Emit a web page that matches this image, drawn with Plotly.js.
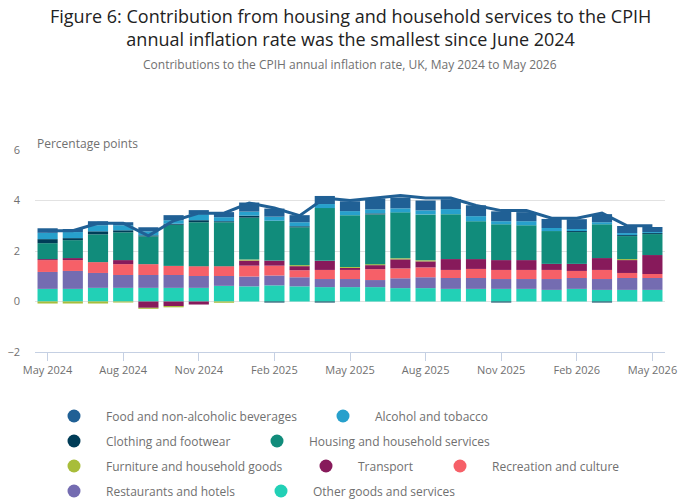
<!DOCTYPE html>
<html><head><meta charset="utf-8">
<script src="https://cdn.plot.ly/plotly-3.0.1.min.js"></script>
<style>html,body{margin:0;padding:0;background:#fff}#chart{width:700px;height:502px}</style>
</head><body><div id="chart"></div>
<script>
const months = ["May 2024","Jun 2024","Jul 2024","Aug 2024","Sep 2024","Oct 2024","Nov 2024","Dec 2024",
  "Jan 2025","Feb 2025","Mar 2025","Apr 2025","May 2025","Jun 2025","Jul 2025","Aug 2025","Sep 2025","Oct 2025","Nov 2025","Dec 2025",
  "Jan 2026","Feb 2026","Mar 2026","Apr 2026","May 2026"];
const tickLabels = ["May 2024","Aug 2024","Nov 2024","Feb 2025","May 2025","Aug 2025","Nov 2025","Feb 2026","May 2026"];

const otherGoods   = [0.50,0.50,0.54,0.54,0.54,0.54,0.54,0.62,0.60,0.64,0.60,0.57,0.57,0.57,0.53,0.53,0.50,0.50,0.50,0.50,0.46,0.50,0.46,0.46,0.46];
const restaurants  = [0.67,0.71,0.59,0.51,0.51,0.51,0.47,0.39,0.39,0.39,0.36,0.32,0.32,0.28,0.39,0.43,0.43,0.43,0.39,0.39,0.43,0.43,0.43,0.47,0.47];
const recreation   = [0.47,0.43,0.43,0.43,0.43,0.36,0.39,0.39,0.43,0.39,0.28,0.36,0.36,0.43,0.39,0.39,0.32,0.36,0.36,0.36,0.36,0.28,0.36,0.20,0.16];
const transport    = [0.04,0.08,0.00,0.16,-0.25,-0.18,-0.12,0.00,0.20,0.20,0.16,0.36,0.08,0.16,0.36,0.24,0.43,0.39,0.39,0.39,0.24,0.28,0.47,0.51,0.75];
const furniture    = [-0.08,-0.08,-0.08,-0.04,-0.04,-0.05,0.00,-0.05,0.04,0.00,0.04,0.00,0.04,0.04,0.04,0.04,0.00,0.00,0.00,0.00,0.00,0.00,0.00,0.04,0.00];
const housing      = [0.63,0.71,1.10,1.10,1.10,1.63,1.74,1.74,1.66,1.58,1.50,2.09,2.05,1.97,1.82,1.82,1.78,1.50,1.42,1.38,1.30,1.26,1.34,0.91,0.83];
const clothing     = [0.16,0.08,0.12,0.08,0.04,0.04,0.08,0.04,0.08,-0.04,0.04,-0.04,0.00,0.04,0.00,0.00,0.00,0.00,-0.04,0.00,0.00,0.04,-0.04,0.04,0.04];
const alcohol      = [0.25,0.24,0.24,0.20,0.16,0.14,0.24,0.16,0.16,0.16,0.16,0.16,0.16,0.16,0.16,0.16,0.20,0.20,0.12,0.16,0.12,0.08,0.08,0.08,0.04];
const food         = [0.18,0.12,0.16,0.12,0.16,0.20,0.16,0.20,0.36,0.32,0.28,0.32,0.39,0.43,0.43,0.39,0.39,0.43,0.39,0.36,0.36,0.39,0.32,0.28,0.20];
const cpih         = [2.8,2.8,3.1,3.1,2.6,3.2,3.5,3.5,3.9,3.7,3.4,4.1,4.0,4.1,4.2,4.1,4.1,3.8,3.6,3.6,3.3,3.3,3.5,3.0,3.0];

const seriesNames = ["Other goods and services","Restaurants and hotels","Recreation and culture","Transport",
  "Furniture and household goods","Housing and household services","Clothing and footwear","Alcohol and tobacco","Food and non-alcoholic beverages"];
const seriesValues = [otherGoods, restaurants, recreation, transport, furniture, housing, clothing, alcohol, food];
const seriesColors = ["#22d0b6","#746cb1","#f66068","#871a5b","#a8bd3a","#118c7b","#003c57","#27a0cc","#206095"];

const legendOrder = ["Food and non-alcoholic beverages","Alcohol and tobacco","Clothing and footwear","Housing and household services",
  "Furniture and household goods","Transport","Recreation and culture","Restaurants and hotels","Other goods and services"];
const legendLeft = [42,311,42,245,42,294,428,42,249];
const legendRowY = [416,416,441,441,466,466,466,491,491];

const titleText = "Figure 6: Contribution from housing and household services to the CPIH<br>annual inflation rate was the smallest since June 2024";
const subtitle = "Contributions to the CPIH annual inflation rate, UK, May 2024 to May 2026";

const FONT = "Open Sans, Noto Sans, sans-serif";
const plotTop = 150, plotBottom = 352, plotLeft = 35, plotRight = 665;
const plotH = plotBottom - plotTop, plotW = plotRight - plotLeft;

const traces = [];
seriesNames.forEach((n, i) => {
  traces.push({type:"bar", name:n, x:months, y:seriesValues[i], marker:{color:seriesColors[i], line:{width:0}},
    showlegend:false, hoverinfo:"x+y+name"});
});
traces.push({type:"scatter", mode:"lines", name:"CPIH", x:months, y:cpih, line:{color:"#206095", width:3}, showlegend:false});

const layout = {
  width:700, height:502,
  margin:{l:plotLeft, r:700-plotRight, t:plotTop, b:502-plotBottom, pad:0, autoexpand:false},
  paper_bgcolor:"#fff", plot_bgcolor:"#fff",
  font:{family:FONT, size:12, color:"#707070"},
  barmode:"relative", bargap:0.2,
  annotations:[
    {text:titleText, xref:"paper", yref:"paper", x:0.5, y:(plotBottom-28)/plotH, xanchor:"center", yanchor:"middle",
      showarrow:false, font:{family:FONT, size:18, color:"#222222"}},
    {text:subtitle, xref:"paper", yref:"paper",
      x:0.5, y:(plotBottom-64)/plotH, xanchor:"center", yanchor:"middle", showarrow:false, font:{family:FONT, size:12, color:"#707070"}},
    {text:"Percentage points", xref:"paper", yref:"paper", x:0, y:(plotBottom-143)/plotH, xanchor:"left", yanchor:"middle",
      showarrow:false, font:{family:FONT, size:12, color:"#707070"}}
  ],
  xaxis:{type:"category", range:[-0.5, 24.5], tickmode:"array", tickvals:tickLabels, ticktext:tickLabels,
    showgrid:false, showline:true, linecolor:"#c5d0e3", linewidth:1, ticks:"outside", ticklen:8, tickcolor:"#c5d0e3", tickwidth:1,
    tickfont:{family:FONT, size:11, color:"#707070"}, fixedrange:true},
  yaxis:{range:[-2, 6], tickmode:"array", tickvals:[-2,0,2,4,6], showgrid:true, gridcolor:"#e2e2e2", gridwidth:1,
    zeroline:false, showline:false, ticks:"", ticklabelstandoff:14,
    tickfont:{family:FONT, size:11, color:"#707070"}, fixedrange:true},
  showlegend:true
};

legendOrder.forEach((n, k) => {
  const idx = seriesNames.indexOf(n);
  const key = k === 0 ? "legend" : "legend" + (k + 1);
  traces.push({type:"scatter", mode:"markers", name:n, x:[null], y:[null], legend:key,
    marker:{color:seriesColors[idx], size:13, symbol:"circle"}, hoverinfo:"skip", showlegend:true});
  layout[key] = {orientation:"h", x:(legendLeft[k]-plotLeft)/plotW, xanchor:"left", xref:"paper",
    y:(plotBottom-legendRowY[k])/plotH, yanchor:"middle", yref:"paper", itemwidth:54,
    bgcolor:"rgba(0,0,0,0)", borderwidth:0, font:{family:FONT, size:12, color:"#707070"}, itemclick:false, itemdoubleclick:false};
});

Plotly.newPlot("chart", traces, layout, {displayModeBar:false, staticPlot:true});
</script></body></html>
